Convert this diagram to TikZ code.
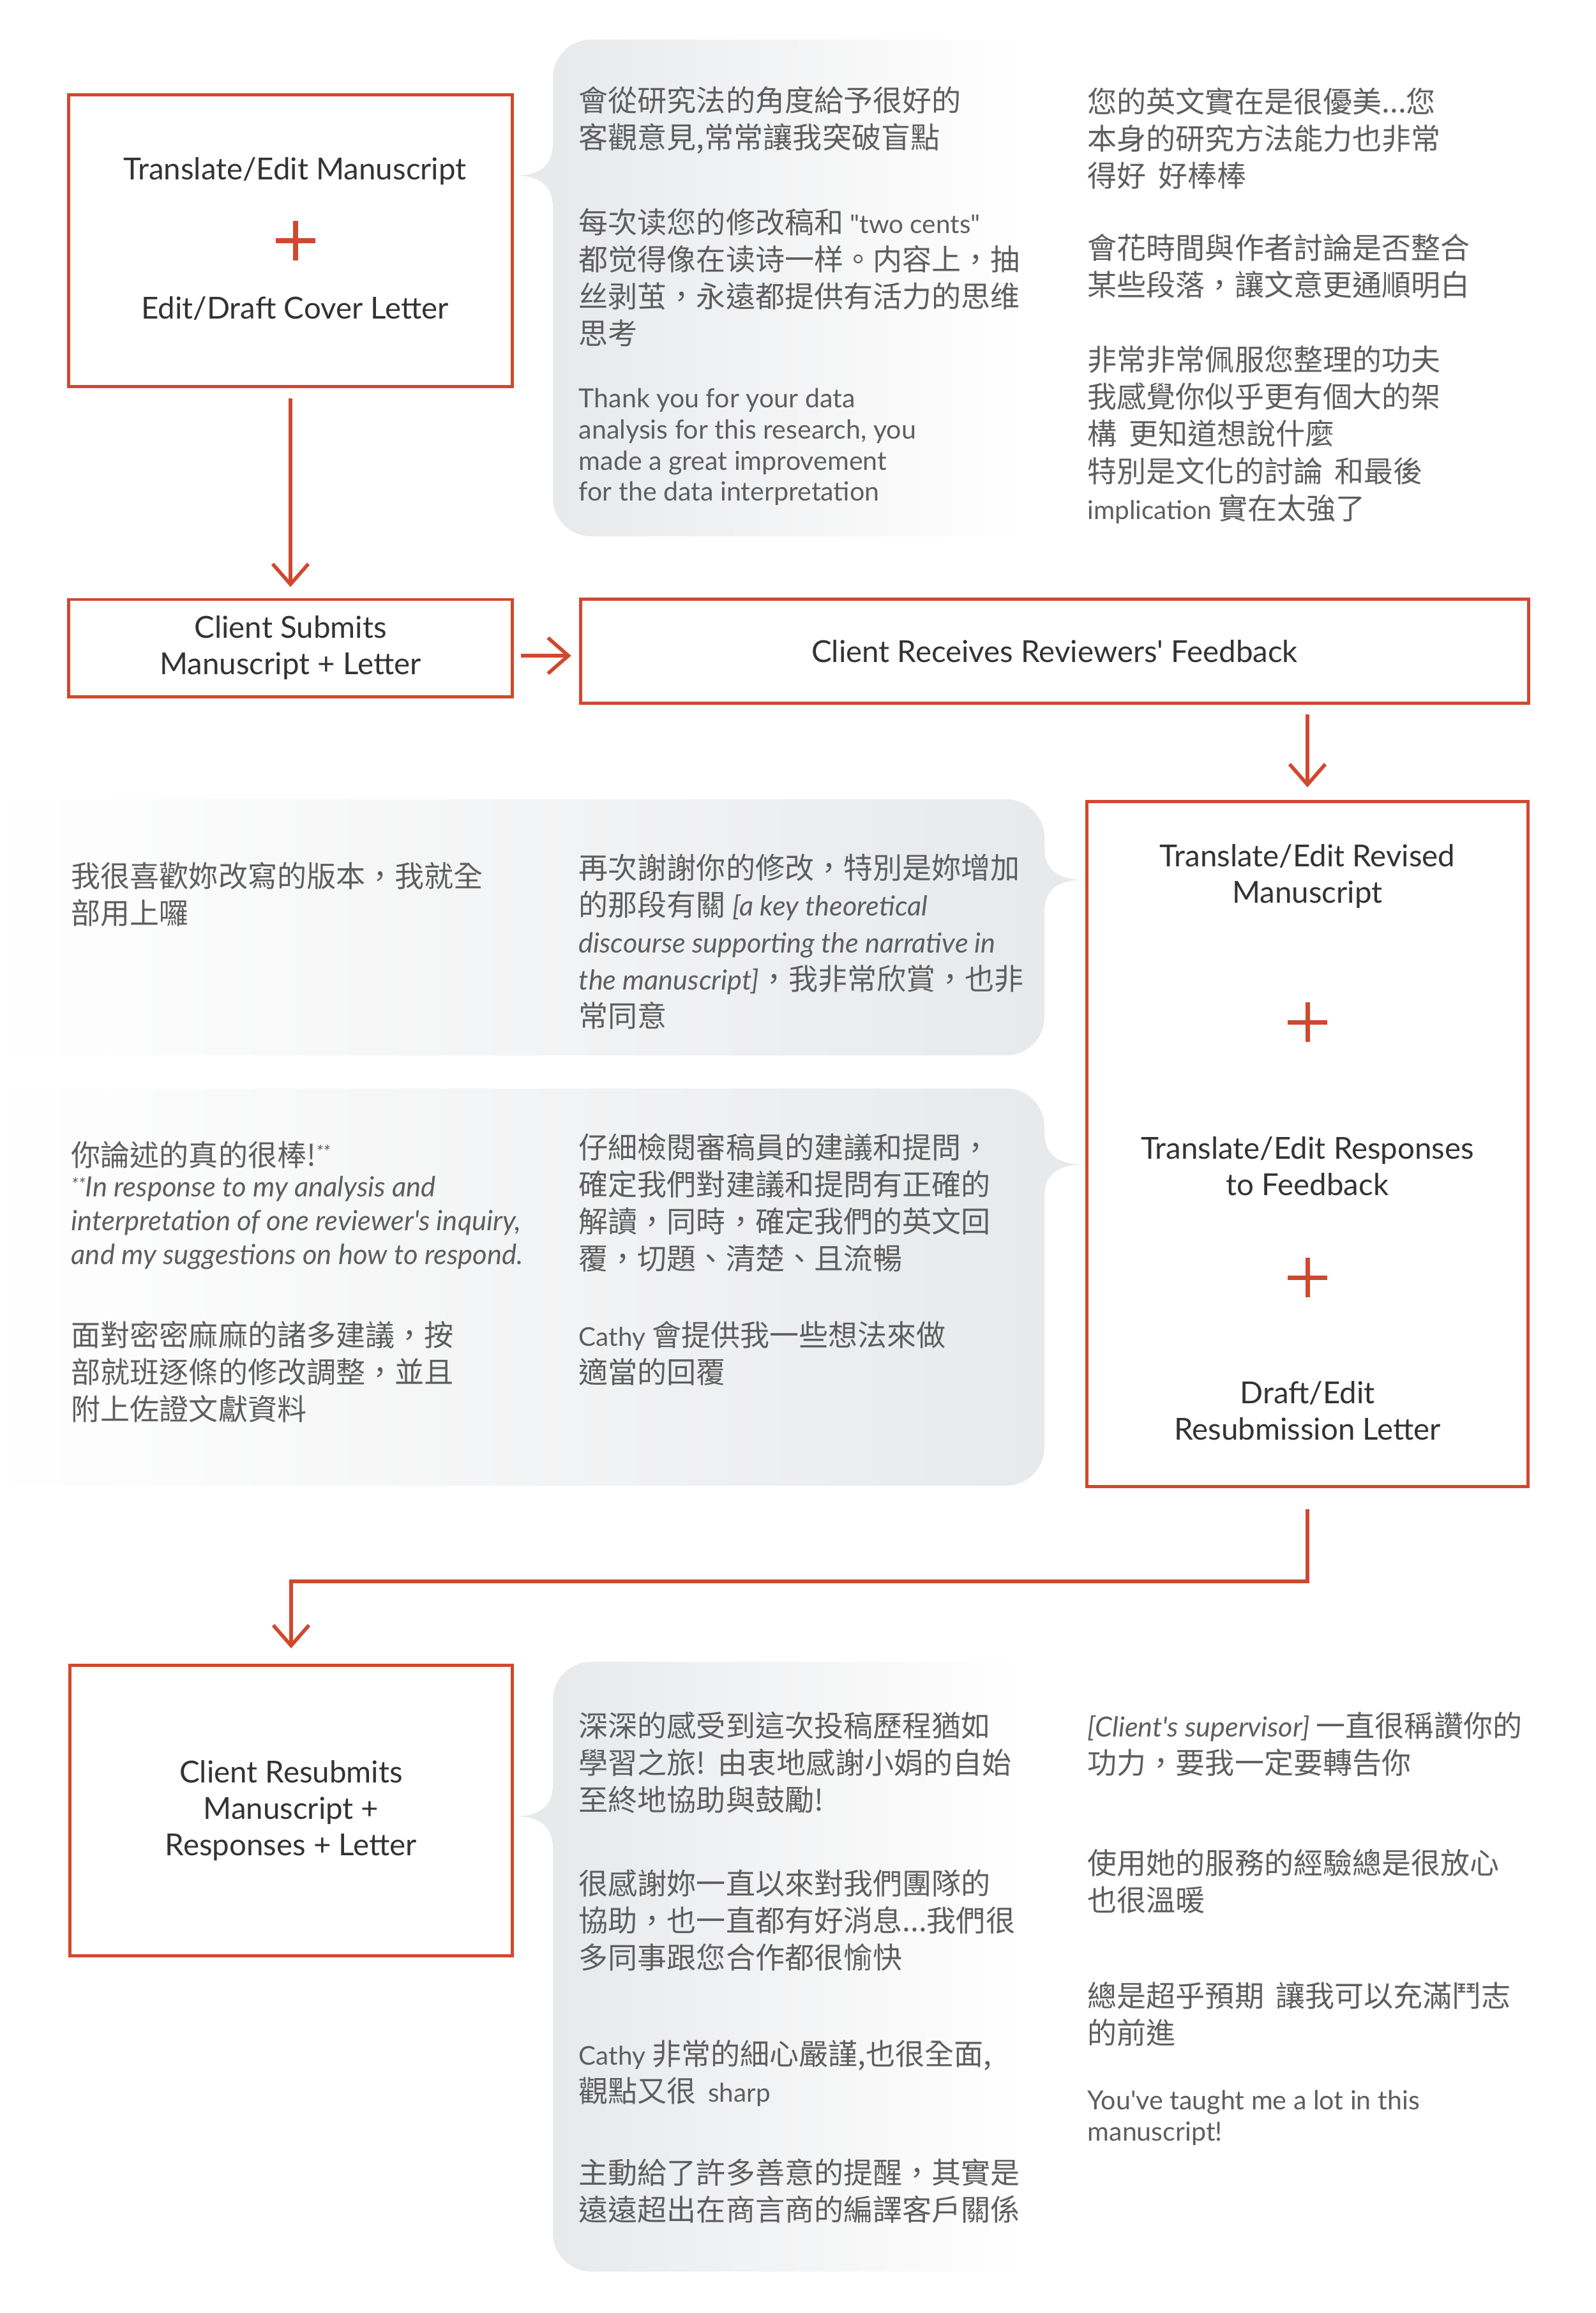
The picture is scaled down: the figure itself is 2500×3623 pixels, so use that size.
\documentclass[tikz,border=0pt]{standalone}
\usepackage{fontspec}
\setmainfont{Lato}
\newfontfamily\lat{Lato}
\newfontfamily\cjk{Noto Sans CJK TC}
\usetikzlibrary{arrows.meta}
\definecolor{accent}{HTML}{D0492E}
\definecolor{inkdark}{HTML}{333333}
\definecolor{inkgray}{HTML}{5E5E5E}
\definecolor{bubble}{HTML}{E8E9EB}
\pgfdeclarehorizontalshading{fadeToWhite}{100bp}{color(0bp)=(bubble); color(25bp)=(bubble); color(45bp)=(white); color(100bp)=(white)}
\pgfdeclarehorizontalshading{fadeFromWhite}{100bp}{color(0bp)=(white); color(30bp)=(white); color(75bp)=(bubble); color(100bp)=(bubble)}
\newcommand{\enpart}[1]{{\lat\fontsize{11.5}{16.5}\selectfont #1}}
\newcommand{\enital}[1]{{\lat\itshape\fontsize{12.3}{16.5}\selectfont #1}}
\newcommand{\gap}{\hspace{0.4em}}

\begin{document}
\begin{tikzpicture}[
  x=0.01cm, y=-0.01cm,
  flowbox/.style={draw=accent, line width=1.4pt, inner sep=0pt},
  boxText/.style={font=\lat\fontsize{13.5}{16.2}\selectfont, text=inkdark, align=center, inner sep=0pt},
  plusMark/.style={minimum size=0.62cm, inner sep=0pt,
    path picture={\draw[accent, line width=2pt]
      (path picture bounding box.north) -- (path picture bounding box.south)
      (path picture bounding box.west) -- (path picture bounding box.east);}},
  flowArrow/.style={draw=accent, line width=1.6pt, -{Straight Barb[length=3.2mm, width=5.6mm]}},
  zh/.style={font=\cjk\fontsize{13.1}{16.5}\selectfont, text=inkgray, align=left, anchor=west, inner sep=0pt},
  en/.style={font=\lat\fontsize{11.7}{13.9}\selectfont, text=inkgray, align=left, anchor=west, inner sep=0pt},
  fadeL/.style={shading=fadeToWhite},
  fadeR/.style={shading=fadeFromWhite},
]
\useasboundingbox (0,0) rectangle (2500,3623);
\fill[white] (0,0) rectangle (2500,3623);

% comment bubbles
\shade[fadeL, rounded corners=0.6cm] (866,62) rectangle (2700,840);
\fill[bubble] (880,225) -- (866,225) .. controls (866,262) and (842,275) .. (806,275)
  .. controls (842,275) and (866,288) .. (866,325) -- (880,325) -- cycle;
\shade[fadeR, rounded corners=0.6cm] (-200,1252) rectangle (1636,1653);
\fill[bubble] (1620,1328) -- (1636,1328) .. controls (1636,1365) and (1660,1378) .. (1700,1378)
  .. controls (1660,1378) and (1636,1391) .. (1636,1428) -- (1620,1428) -- cycle;
\shade[fadeR, rounded corners=0.6cm] (-200,1705) rectangle (1636,2327);
\fill[bubble] (1620,1774) -- (1636,1774) .. controls (1636,1811) and (1660,1824) .. (1700,1824)
  .. controls (1660,1824) and (1636,1837) .. (1636,1874) -- (1620,1874) -- cycle;
\shade[fadeL, rounded corners=0.6cm] (866,2603) rectangle (2700,3558);
\fill[bubble] (880,2795) -- (866,2795) .. controls (866,2832) and (842,2845) .. (806,2845)
  .. controls (842,2845) and (866,2858) .. (866,2895) -- (880,2895) -- cycle;

% process boxes
\node[flowbox, minimum width=6.95cm, minimum height=4.57cm] (manu) at (455,377) {};
\node[boxText] (manuTxt) at (462,268) {Translate/Edit Manuscript};
\node[plusMark] (manuPlus) at (463,377) {};
\node[boxText] (coverTxt) at (462,483) {Edit/Draft Cover Letter};

\node[flowbox, boxText, minimum width=6.95cm, minimum height=1.52cm] (submit) at (455,1015)
  {Client Submits\\Manuscript + Letter};
\node[flowbox, boxText, minimum width=14.85cm, minimum height=1.63cm] (receive) at (1652,1020)
  {Client Receives Reviewers' Feedback};

\node[flowbox, minimum width=6.91cm, minimum height=10.72cm] (revise) at (2048,1792) {};
\node[boxText] (reviseTxt) at (2048,1373) {Translate/Edit Revised\\Manuscript};
\node[plusMark] (revisePlusA) at (2048,1601) {};
\node[boxText] (respTxt) at (2048,1827) {Translate/Edit Responses\\to Feedback};
\node[plusMark] (revisePlusB) at (2048,2001) {};
\node[boxText] (letterTxt) at (2048,2210) {Draft/Edit\\Resubmission Letter};

\node[flowbox, boxText, minimum width=6.92cm, minimum height=4.55cm] (resubmit) at (456,2836)
  {Client Resubmits\\Manuscript +\\Responses + Letter};

% flow
\draw[flowArrow, shorten <=0.16cm, shorten >=0.17cm] (manu.south) -- (submit.north);
\draw[flowArrow, shorten <=0.11cm, shorten >=0.12cm] ([yshift=-0.12cm]submit.east) -- ([yshift=-0.12cm]submit.east -| receive.west);
\draw[flowArrow, shorten <=0.15cm, shorten >=0.2cm] (receive.south -| revise.north) -- (revise.north);
\coordinate (turn) at (2048,2477);
\draw[flowArrow, shorten <=0.33cm, shorten >=0.24cm] (revise.south) -- (turn) -| (resubmit.north);

% client quotes, first round
\node[zh] (qa1) at (906,188) {會從研究法的角度給予很好的\\客觀意見,常常讓我突破盲點};
\node[zh] (qa2) at (906,435) {每次读您的修改稿和 \enpart{"two cents"}\\都觉得像在读诗一样。内容上，抽\\丝剥茧，永遠都提供有活力的思维\\思考};
\node[en] (qa3) at (906,700) {Thank you for your data\\analysis for this research, you\\made a great improvement\\for the data interpretation};
\node[zh] (qa4) at (1703,217) {您的英文實在是很優美...您\\本身的研究方法能力也非常\\得好\gap 好棒棒};
\node[zh] (qa5) at (1703,417) {會花時間與作者討論是否整合\\某些段落，讓文意更通順明白};
\node[zh] (qa6) at (1703,681) {非常非常佩服您整理的功夫\\我感覺你似乎更有個大的架\\構\gap 更知道想說什麼\\特別是文化的討論\gap 和最後\\\enpart{implication} 實在太強了};

% client quotes, revision
\node[zh] (qb1) at (111,1401) {我很喜歡妳改寫的版本，我就全\\部用上囉};
\node[zh] (qb2) at (906,1475) {再次謝謝你的修改，特別是妳增加\\的那段有關 \enital{[a key theoretical}\\\enital{discourse supporting the narrative in}\\\enital{the manuscript]}，我非常欣賞，也非\\常同意};
\node[zh] (qc1) at (111,1809) {你論述的真的很棒!\raisebox{0.5ex}{\lat\itshape\fontsize{8}{10}\selectfont **}};
\node[en, font=\lat\itshape\fontsize{12.4}{15.1}\selectfont] (qc2) at (111,1915)
  {\raisebox{0.4ex}{\fontsize{8}{10}\selectfont **}In response to my analysis and\\interpretation of one reviewer's inquiry,\\and my suggestions on how to respond.};
\node[zh] (qc3) at (111,2149) {面對密密麻麻的諸多建議，按\\部就班逐條的修改調整，並且\\附上佐證文獻資料};
\node[zh] (qc4) at (906,1884) {仔細檢閱審稿員的建議和提問，\\確定我們對建議和提問有正確的\\解讀，同時，確定我們的英文回\\覆，切題、清楚、且流暢};
\node[zh] (qc5) at (906,2120) {\enpart{Cathy} 會提供我一些想法來做\\適當的回覆};

% client quotes, resubmission
\node[zh] (qd1) at (906,2761) {深深的感受到這次投稿歷程猶如\\學習之旅!\gap 由衷地感謝小娟的自始\\至終地協助與鼓勵!};
\node[zh] (qd2) at (906,3008) {很感謝妳一直以來對我們團隊的\\協助，也一直都有好消息...我們很\\多同事跟您合作都很愉快};
\node[zh] (qd3) at (906,3247) {\enpart{Cathy} 非常的細心嚴謹,也很全面,\\觀點又很\gap\enpart{sharp}};
\node[zh] (qd4) at (906,3432) {主動給了許多善意的提醒，其實是\\遠遠超出在商言商的編譯客戶關係};
\node[zh] (qd5) at (1703,2732) {\enital{[Client's supervisor]} 一直很稱讚你的\\功力，要我一定要轉告你};
\node[zh] (qd6) at (1703,2947) {使用她的服務的經驗總是很放心\\也很溫暖};
\node[zh] (qd7) at (1703,3155) {總是超乎預期\gap 讓我可以充滿鬥志\\的前進};
\node[en] (qd8) at (1703,3317) {You've taught me a lot in this\\manuscript!};
\end{tikzpicture}
\end{document}
